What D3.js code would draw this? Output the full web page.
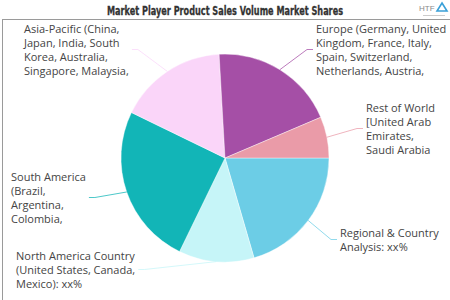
<!DOCTYPE html>
<html>
<head>
<meta charset="utf-8">
<script src="https://cdn.jsdelivr.net/npm/d3@7"></script>
<style>
  body { margin: 0; background: #fff; }
  svg { display: block; }
</style>
</head>
<body>
<div id="chart"></div>
<script>
// 데이터
const regions = ["Regional & Country", "North America", "South America", "Asia-Pacific", "Europe", "Rest of World"];
const shares = [20.5, 11.7, 25.0, 16.9, 19.5, 6.4];
const colors = ["#6ccde6", "#c6f5f8", "#12b5b7", "#fad5f9", "#a54fa6", "#ea9ba8"];
const labelLines = [
    ["Regional & Country", "Analysis: xx%"],
    ["North America Country", "(United States, Canada,", "Mexico): xx%"],
    ["South America", "(Brazil,", "Argentina,", "Colombia,"],
    ["Asia-Pacific (China,", "Japan, India, South", "Korea, Australia,", "Singapore, Malaysia,"],
    ["Europe (Germany, United", "Kingdom, France, Italy,", "Spain, Switzerland,", "Netherlands, Austria,"],
    ["Rest of World", "[United Arab", "Emirates,", "Saudi Arabia"]
];
const title = "Market Player Product Sales Volume Market Shares";

// 레이아웃
const width = 450, height = 300;
const cx = 225, cy = 158, radius = 104;
const labelPos = [
    {x: 340, y: 237, side: "right"},
    {x: 16, y: 260, side: "left"},
    {x: 11, y: 181, side: "left"},
    {x: 24, y: 33, side: "left"},
    {x: 316, y: 33, side: "right"},
    {x: 366, y: 112, side: "right"}
];
const lineHeight = 14;

const svg = d3.select("#chart").append("svg")
    .attr("width", width)
    .attr("height", height);

// 테두리
svg.append("line")
    .attr("x1", 2).attr("x2", width).attr("y1", 19.5).attr("y2", 19.5)
    .attr("stroke", "#9a9a9a").attr("stroke-width", 1);
svg.append("line")
    .attr("x1", 2.5).attr("x2", 2.5).attr("y1", 19).attr("y2", height)
    .attr("stroke", "#9a9a9a").attr("stroke-width", 1);

// 제목
svg.append("text")
    .attr("x", 107).attr("y", 15)
    .attr("textLength", 236)
    .attr("lengthAdjust", "spacingAndGlyphs")
    .style("font-family", "'DejaVu Sans Condensed', 'DejaVu Sans', sans-serif")
    .style("font-weight", "bold")
    .style("font-size", "12.5px")
    .style("fill", "#333")
    .style("stroke", "#333")
    .style("stroke-width", 0.3)
    .text(title);

// 로고
const logo = svg.append("g").attr("transform", "translate(419,0)");
logo.append("text")
    .attr("x", 0).attr("y", 11)
    .style("font-family", "'Liberation Sans', sans-serif")
    .style("font-size", "8px")
    .style("fill", "#8a8a8a")
    .text("HTF");
logo.append("path")
    .attr("d", "M23,3 L28,11 L18,11 Z")
    .attr("fill", "none")
    .attr("stroke", "#3aa0d8")
    .attr("stroke-width", 1.6);
logo.append("line")
    .attr("x1", 4).attr("x2", 26).attr("y1", 15.5).attr("y2", 15.5)
    .attr("stroke", "#ccc").attr("stroke-width", 1);

// 파이
const data = regions.map((r, i) => ({name: r, value: shares[i], color: colors[i], lines: labelLines[i], pos: labelPos[i]}));

const pie = d3.pie()
    .sort(null)
    .value(d => d.value)
    .startAngle(Math.PI / 2)
    .endAngle(Math.PI / 2 + 2 * Math.PI);

const arc = d3.arc().innerRadius(0).outerRadius(radius);
const arcs = pie(data);

const g = svg.append("g").attr("transform", `translate(${cx},${cy})`);
g.selectAll("path.slice")
    .data(arcs)
    .enter().append("path")
        .attr("class", "slice")
        .attr("d", arc)
        .attr("fill", d => d.data.color)
        .attr("stroke", "#fff")
        .attr("stroke-width", 0.4);

// 라벨
const labels = svg.selectAll("g.label")
    .data(arcs)
    .enter().append("g")
        .attr("class", "label");

labels.each(function(d) {
    const t = d3.select(this).append("text")
        .style("font-family", "'Open Sans', sans-serif")
        .style("font-size", "11px")
        .style("fill", "#444");
    d.data.lines.forEach((line, j) => {
        t.append("tspan")
            .attr("x", d.data.pos.x)
            .attr("y", d.data.pos.y + j * lineHeight)
            .text(line);
    });
});

// 지시선
labels.each(function(d) {
    const box = this.getBBox();
    const mid = (d.startAngle + d.endAngle) / 2;
    const sx = cx + Math.sin(mid) * radius;
    const sy = cy - Math.cos(mid) * radius;
    const right = d.data.pos.side === "right";
    const ey = box.y + box.height / 2;
    const ex = right ? d.data.pos.x - 3 : Math.min(box.x + box.width, 150) + 3;
    const bx = right ? ex - 6 : ex + 6;
    d3.select(this).insert("polyline", "text")
        .attr("points", [[sx, sy], [bx, ey], [ex, ey]].map(p => p.join(",")).join(" "))
        .attr("fill", "none")
        .attr("stroke", d.data.color)
        .attr("stroke-opacity", 0.75)
        .attr("stroke-width", 1);
});
</script>
</body>
</html>
